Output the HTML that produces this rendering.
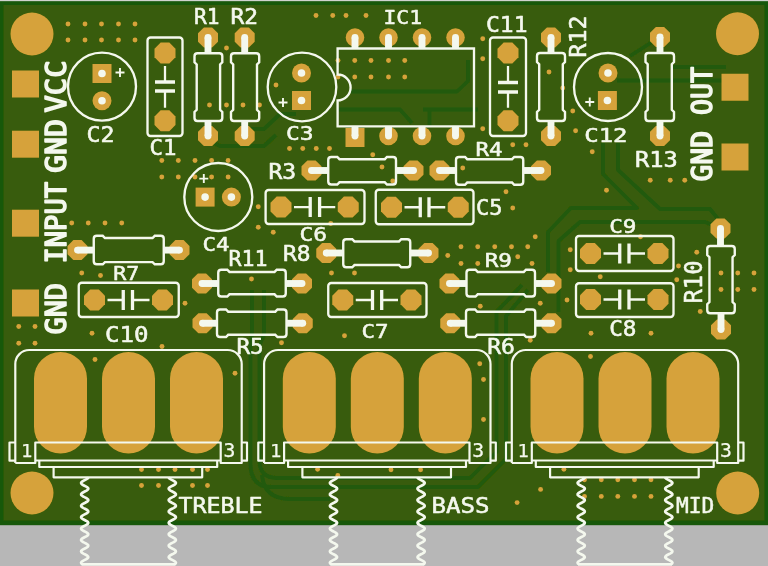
<!DOCTYPE html><html><head><meta charset="utf-8"><title>PCB</title><style>html,body{margin:0;padding:0;background:#b7b7b7}svg{display:block}</style></head><body><svg width="768" height="566" viewBox="0 0 768 566">
<rect width="768" height="566" fill="#b7b7b7"/>
<rect x="0" y="0" width="768" height="1.2" fill="#cfd3cf"/>
<rect x="0" y="1.2" width="768" height="524" fill="#17580a"/>
<defs><filter id="soft" x="-2%" y="-2%" width="104%" height="104%"><feGaussianBlur stdDeviation="0.7"/></filter></defs>
<g filter="url(#soft)">
<rect x="3.5" y="5" width="761" height="515.5" fill="#385c07"/>
<g fill="none" stroke="#215a0b" stroke-width="3.8" stroke-linejoin="round"><path d="M603 143 V174 L637 208 H571 L548 232 V272"/><path d="M618 143 V170 L660 209 H710 L720.5 222"/><path d="M720 228 L705 222 H580 L558.5 241 V312"/><path d="M252 290 V335 L250.5 345 V464 Q250.5 487 272 487 H478 L506 459 V316 L528 290"/><path d="M264 290 V335 L259.5 345 V460 Q259.5 478 277 478 H470 L496.5 452 V312 L522 285"/><path d="M262 475 Q264 499 290 499 H330"/><path d="M251 129 H264 L280 114 H296"/><path d="M208 140 L220 146 H264 L276 135"/><path d="M351 91.5 H457 L468 81 V60"/><path d="M338 109.5 H400 L412 123"/><path d="M423 109.5 H478 M429.5 109.5 V126"/><path d="M617 80.5 H723 M673 67 H726 M660 37 L630 56"/></g>
<circle cx="68.00" cy="24.00" r="2.45" fill="#d6a23a"/><circle cx="68.00" cy="40.00" r="2.45" fill="#d6a23a"/><circle cx="85.00" cy="24.00" r="2.45" fill="#d6a23a"/><circle cx="85.00" cy="40.00" r="2.45" fill="#d6a23a"/><circle cx="101.50" cy="24.00" r="2.45" fill="#d6a23a"/><circle cx="101.50" cy="40.00" r="2.45" fill="#d6a23a"/><circle cx="118.50" cy="24.00" r="2.45" fill="#d6a23a"/><circle cx="118.50" cy="40.00" r="2.45" fill="#d6a23a"/><circle cx="135.00" cy="24.00" r="2.45" fill="#d6a23a"/><circle cx="135.00" cy="40.00" r="2.45" fill="#d6a23a"/><circle cx="316.00" cy="15.50" r="2.45" fill="#d6a23a"/><circle cx="332.75" cy="15.50" r="2.45" fill="#d6a23a"/><circle cx="346.00" cy="15.50" r="2.45" fill="#d6a23a"/><circle cx="366.00" cy="15.50" r="2.45" fill="#d6a23a"/><circle cx="338.00" cy="60.50" r="2.45" fill="#d6a23a"/><circle cx="338.00" cy="77.00" r="2.45" fill="#d6a23a"/><circle cx="354.75" cy="60.50" r="2.45" fill="#d6a23a"/><circle cx="354.75" cy="77.00" r="2.45" fill="#d6a23a"/><circle cx="371.00" cy="60.50" r="2.45" fill="#d6a23a"/><circle cx="371.00" cy="77.00" r="2.45" fill="#d6a23a"/><circle cx="388.50" cy="60.50" r="2.45" fill="#d6a23a"/><circle cx="388.50" cy="77.00" r="2.45" fill="#d6a23a"/><circle cx="404.75" cy="60.50" r="2.45" fill="#d6a23a"/><circle cx="404.75" cy="77.00" r="2.45" fill="#d6a23a"/><circle cx="226.50" cy="48.00" r="2.45" fill="#d6a23a"/><circle cx="209.50" cy="105.00" r="2.45" fill="#d6a23a"/><circle cx="226.50" cy="105.00" r="2.45" fill="#d6a23a"/><circle cx="243.00" cy="105.00" r="2.45" fill="#d6a23a"/><circle cx="259.50" cy="105.00" r="2.45" fill="#d6a23a"/><circle cx="276.00" cy="85.00" r="2.45" fill="#d6a23a"/><circle cx="482.75" cy="38.75" r="2.45" fill="#d6a23a"/><circle cx="482.75" cy="58.75" r="2.45" fill="#d6a23a"/><circle cx="482.75" cy="128.75" r="2.45" fill="#d6a23a"/><circle cx="549.00" cy="72.00" r="2.45" fill="#d6a23a"/><circle cx="562.75" cy="88.00" r="2.45" fill="#d6a23a"/><circle cx="572.75" cy="111.00" r="2.45" fill="#d6a23a"/><circle cx="161.80" cy="160.50" r="2.45" fill="#d6a23a"/><circle cx="161.80" cy="177.00" r="2.45" fill="#d6a23a"/><circle cx="178.30" cy="160.50" r="2.45" fill="#d6a23a"/><circle cx="178.30" cy="177.00" r="2.45" fill="#d6a23a"/><circle cx="195.00" cy="160.50" r="2.45" fill="#d6a23a"/><circle cx="195.00" cy="177.00" r="2.45" fill="#d6a23a"/><circle cx="211.60" cy="160.50" r="2.45" fill="#d6a23a"/><circle cx="211.60" cy="177.00" r="2.45" fill="#d6a23a"/><circle cx="228.10" cy="160.50" r="2.45" fill="#d6a23a"/><circle cx="228.10" cy="177.00" r="2.45" fill="#d6a23a"/><circle cx="258.25" cy="206.75" r="2.45" fill="#d6a23a"/><circle cx="258.25" cy="227.25" r="2.45" fill="#d6a23a"/><circle cx="273.25" cy="232.25" r="2.45" fill="#d6a23a"/><circle cx="289.50" cy="148.50" r="2.45" fill="#d6a23a"/><circle cx="302.75" cy="148.50" r="2.45" fill="#d6a23a"/><circle cx="316.25" cy="148.50" r="2.45" fill="#d6a23a"/><circle cx="329.50" cy="148.50" r="2.45" fill="#d6a23a"/><circle cx="372.75" cy="154.75" r="2.45" fill="#d6a23a"/><circle cx="382.00" cy="167.00" r="2.45" fill="#d6a23a"/><circle cx="330.75" cy="223.50" r="2.45" fill="#d6a23a"/><circle cx="251.50" cy="279.00" r="2.45" fill="#d6a23a"/><circle cx="331.50" cy="273.00" r="2.45" fill="#d6a23a"/><circle cx="354.50" cy="273.00" r="2.45" fill="#d6a23a"/><circle cx="512.75" cy="144.75" r="2.45" fill="#d6a23a"/><circle cx="526.00" cy="144.75" r="2.45" fill="#d6a23a"/><circle cx="506.00" cy="191.75" r="2.45" fill="#d6a23a"/><circle cx="512.75" cy="208.00" r="2.45" fill="#d6a23a"/><circle cx="535.25" cy="236.75" r="2.45" fill="#d6a23a"/><circle cx="461.00" cy="246.75" r="2.45" fill="#d6a23a"/><circle cx="477.75" cy="246.75" r="2.45" fill="#d6a23a"/><circle cx="494.75" cy="246.75" r="2.45" fill="#d6a23a"/><circle cx="511.50" cy="246.75" r="2.45" fill="#d6a23a"/><circle cx="527.75" cy="246.75" r="2.45" fill="#d6a23a"/><circle cx="447.75" cy="255.50" r="2.45" fill="#d6a23a"/><circle cx="461.00" cy="263.50" r="2.45" fill="#d6a23a"/><circle cx="477.75" cy="263.50" r="2.45" fill="#d6a23a"/><circle cx="517.75" cy="256.75" r="2.45" fill="#d6a23a"/><circle cx="532.00" cy="263.50" r="2.45" fill="#d6a23a"/><circle cx="570.25" cy="249.75" r="2.45" fill="#d6a23a"/><circle cx="570.25" cy="269.75" r="2.45" fill="#d6a23a"/><circle cx="592.25" cy="151.75" r="2.45" fill="#d6a23a"/><circle cx="650.25" cy="180.25" r="2.45" fill="#d6a23a"/><circle cx="670.25" cy="180.25" r="2.45" fill="#d6a23a"/><circle cx="684.75" cy="180.25" r="2.45" fill="#d6a23a"/><circle cx="606.50" cy="190.25" r="2.45" fill="#d6a23a"/><circle cx="640.50" cy="236.75" r="2.45" fill="#d6a23a"/><circle cx="696.75" cy="252.25" r="2.45" fill="#d6a23a"/><circle cx="678.50" cy="266.00" r="2.45" fill="#d6a23a"/><circle cx="600.25" cy="276.75" r="2.45" fill="#d6a23a"/><circle cx="676.75" cy="279.75" r="2.45" fill="#d6a23a"/><circle cx="721.00" cy="273.00" r="2.45" fill="#d6a23a"/><circle cx="721.00" cy="289.50" r="2.45" fill="#d6a23a"/><circle cx="737.75" cy="273.00" r="2.45" fill="#d6a23a"/><circle cx="737.75" cy="289.50" r="2.45" fill="#d6a23a"/><circle cx="754.00" cy="273.00" r="2.45" fill="#d6a23a"/><circle cx="754.00" cy="289.50" r="2.45" fill="#d6a23a"/><circle cx="18.75" cy="326.50" r="2.45" fill="#d6a23a"/><circle cx="35.00" cy="326.50" r="2.45" fill="#d6a23a"/><circle cx="18.75" cy="343.25" r="2.45" fill="#d6a23a"/><circle cx="35.00" cy="343.25" r="2.45" fill="#d6a23a"/><circle cx="92.00" cy="333.25" r="2.45" fill="#d6a23a"/><circle cx="95.00" cy="359.50" r="2.45" fill="#d6a23a"/><circle cx="162.00" cy="346.50" r="2.45" fill="#d6a23a"/><circle cx="185.00" cy="303.25" r="2.45" fill="#d6a23a"/><circle cx="281.50" cy="342.75" r="2.45" fill="#d6a23a"/><circle cx="344.50" cy="335.75" r="2.45" fill="#d6a23a"/><circle cx="235.00" cy="373.25" r="2.45" fill="#d6a23a"/><circle cx="480.25" cy="306.25" r="2.45" fill="#d6a23a"/><circle cx="540.25" cy="303.25" r="2.45" fill="#d6a23a"/><circle cx="567.00" cy="300.00" r="2.45" fill="#d6a23a"/><circle cx="530.25" cy="340.25" r="2.45" fill="#d6a23a"/><circle cx="479.75" cy="363.75" r="2.45" fill="#d6a23a"/><circle cx="483.50" cy="379.50" r="2.45" fill="#d6a23a"/><circle cx="483.50" cy="419.50" r="2.45" fill="#d6a23a"/><circle cx="591.00" cy="333.25" r="2.45" fill="#d6a23a"/><circle cx="651.00" cy="333.25" r="2.45" fill="#d6a23a"/><circle cx="590.50" cy="356.50" r="2.45" fill="#d6a23a"/><circle cx="700.25" cy="311.50" r="2.45" fill="#d6a23a"/><circle cx="141.50" cy="469.50" r="2.45" fill="#d6a23a"/><circle cx="158.50" cy="469.50" r="2.45" fill="#d6a23a"/><circle cx="175.00" cy="469.50" r="2.45" fill="#d6a23a"/><circle cx="192.50" cy="469.50" r="2.45" fill="#d6a23a"/><circle cx="207.50" cy="469.50" r="2.45" fill="#d6a23a"/><circle cx="141.50" cy="485.50" r="2.45" fill="#d6a23a"/><circle cx="158.50" cy="485.50" r="2.45" fill="#d6a23a"/><circle cx="192.50" cy="485.50" r="2.45" fill="#d6a23a"/><circle cx="207.50" cy="485.50" r="2.45" fill="#d6a23a"/><circle cx="317.60" cy="469.20" r="2.45" fill="#d6a23a"/><circle cx="337.80" cy="475.50" r="2.45" fill="#d6a23a"/><circle cx="391.00" cy="469.70" r="2.45" fill="#d6a23a"/><circle cx="420.60" cy="469.70" r="2.45" fill="#d6a23a"/><circle cx="540.60" cy="489.40" r="2.45" fill="#d6a23a"/><circle cx="517.10" cy="502.60" r="2.45" fill="#d6a23a"/><circle cx="563.90" cy="469.20" r="2.45" fill="#d6a23a"/><circle cx="584.50" cy="479.70" r="2.45" fill="#d6a23a"/><circle cx="584.50" cy="496.40" r="2.45" fill="#d6a23a"/><circle cx="601.30" cy="479.70" r="2.45" fill="#d6a23a"/><circle cx="601.30" cy="496.40" r="2.45" fill="#d6a23a"/><circle cx="617.80" cy="479.70" r="2.45" fill="#d6a23a"/><circle cx="617.80" cy="496.40" r="2.45" fill="#d6a23a"/><circle cx="634.50" cy="479.70" r="2.45" fill="#d6a23a"/><circle cx="634.50" cy="496.40" r="2.45" fill="#d6a23a"/><circle cx="651.00" cy="479.70" r="2.45" fill="#d6a23a"/><circle cx="651.00" cy="496.40" r="2.45" fill="#d6a23a"/><circle cx="71.75" cy="223.00" r="2.45" fill="#d6a23a"/><circle cx="88.25" cy="223.00" r="2.45" fill="#d6a23a"/><circle cx="105.00" cy="223.00" r="2.45" fill="#d6a23a"/><circle cx="121.75" cy="223.00" r="2.45" fill="#d6a23a"/><circle cx="81.75" cy="273.00" r="2.45" fill="#d6a23a"/><circle cx="100.50" cy="275.50" r="2.45" fill="#d6a23a"/><circle cx="462.75" cy="168.00" r="2.45" fill="#d6a23a"/><circle cx="392.75" cy="181.00" r="2.45" fill="#d6a23a"/><circle cx="575.60" cy="130.80" r="2.45" fill="#d6a23a"/>
<polygon points="218.00,41.64 212.14,47.50 203.86,47.50 198.00,41.64 198.00,33.36 203.86,27.50 212.14,27.50 218.00,33.36" fill="#d6a23a"/><polygon points="218.00,140.14 212.14,146.00 203.86,146.00 198.00,140.14 198.00,131.86 203.86,126.00 212.14,126.00 218.00,131.86" fill="#d6a23a"/><polygon points="254.70,41.64 248.84,47.50 240.56,47.50 234.70,41.64 234.70,33.36 240.56,27.50 248.84,27.50 254.70,33.36" fill="#d6a23a"/><polygon points="254.70,140.14 248.84,146.00 240.56,146.00 234.70,140.14 234.70,131.86 240.56,126.00 248.84,126.00 254.70,131.86" fill="#d6a23a"/><polygon points="561.00,41.64 555.14,47.50 546.86,47.50 541.00,41.64 541.00,33.36 546.86,27.50 555.14,27.50 561.00,33.36" fill="#d6a23a"/><polygon points="561.00,140.14 555.14,146.00 546.86,146.00 541.00,140.14 541.00,131.86 546.86,126.00 555.14,126.00 561.00,131.86" fill="#d6a23a"/><polygon points="670.00,41.14 664.14,47.00 655.86,47.00 650.00,41.14 650.00,32.86 655.86,27.00 664.14,27.00 670.00,32.86" fill="#d6a23a"/><polygon points="670.00,140.14 664.14,146.00 655.86,146.00 650.00,140.14 650.00,131.86 655.86,126.00 664.14,126.00 670.00,131.86" fill="#d6a23a"/><polygon points="730.50,232.64 724.64,238.50 716.36,238.50 710.50,232.64 710.50,224.36 716.36,218.50 724.64,218.50 730.50,224.36" fill="#d6a23a"/><polygon points="731.00,333.64 725.14,339.50 716.86,339.50 711.00,333.64 711.00,325.36 716.86,319.50 725.14,319.50 731.00,325.36" fill="#d6a23a"/><polygon points="321.50,174.64 315.64,180.50 307.36,180.50 301.50,174.64 301.50,166.36 307.36,160.50 315.64,160.50 321.50,166.36" fill="#d6a23a"/><polygon points="423.50,174.64 417.64,180.50 409.36,180.50 403.50,174.64 403.50,166.36 409.36,160.50 417.64,160.50 423.50,166.36" fill="#d6a23a"/><polygon points="449.50,174.64 443.64,180.50 435.36,180.50 429.50,174.64 429.50,166.36 435.36,160.50 443.64,160.50 449.50,166.36" fill="#d6a23a"/><polygon points="551.00,174.64 545.14,180.50 536.86,180.50 531.00,174.64 531.00,166.36 536.86,160.50 545.14,160.50 551.00,166.36" fill="#d6a23a"/><polygon points="87.50,254.24 81.64,260.10 73.36,260.10 67.50,254.24 67.50,245.96 73.36,240.10 81.64,240.10 87.50,245.96" fill="#d6a23a"/><polygon points="189.50,254.24 183.64,260.10 175.36,260.10 169.50,254.24 169.50,245.96 175.36,240.10 183.64,240.10 189.50,245.96" fill="#d6a23a"/><polygon points="336.25,257.14 330.39,263.00 322.11,263.00 316.25,257.14 316.25,248.86 322.11,243.00 330.39,243.00 336.25,248.86" fill="#d6a23a"/><polygon points="438.50,257.14 432.64,263.00 424.36,263.00 418.50,257.14 418.50,248.86 424.36,243.00 432.64,243.00 438.50,248.86" fill="#d6a23a"/><polygon points="212.00,287.64 206.14,293.50 197.86,293.50 192.00,287.64 192.00,279.36 197.86,273.50 206.14,273.50 212.00,279.36" fill="#d6a23a"/><polygon points="312.00,287.64 306.14,293.50 297.86,293.50 292.00,287.64 292.00,279.36 297.86,273.50 306.14,273.50 312.00,279.36" fill="#d6a23a"/><polygon points="459.50,287.64 453.64,293.50 445.36,293.50 439.50,287.64 439.50,279.36 445.36,273.50 453.64,273.50 459.50,279.36" fill="#d6a23a"/><polygon points="561.50,287.64 555.64,293.50 547.36,293.50 541.50,287.64 541.50,279.36 547.36,273.50 555.64,273.50 561.50,279.36" fill="#d6a23a"/><polygon points="212.50,327.39 206.64,333.25 198.36,333.25 192.50,327.39 192.50,319.11 198.36,313.25 206.64,313.25 212.50,319.11" fill="#d6a23a"/><polygon points="312.75,327.39 306.89,333.25 298.61,333.25 292.75,327.39 292.75,319.11 298.61,313.25 306.89,313.25 312.75,319.11" fill="#d6a23a"/><polygon points="460.25,327.39 454.39,333.25 446.11,333.25 440.25,327.39 440.25,319.11 446.11,313.25 454.39,313.25 460.25,319.11" fill="#d6a23a"/><polygon points="561.50,327.39 555.64,333.25 547.36,333.25 541.50,327.39 541.50,319.11 547.36,313.25 555.64,313.25 561.50,319.11" fill="#d6a23a"/><polygon points="175.50,57.35 169.35,63.50 160.65,63.50 154.50,57.35 154.50,48.65 160.65,42.50 169.35,42.50 175.50,48.65" fill="#d6a23a"/><polygon points="175.50,125.10 169.35,131.25 160.65,131.25 154.50,125.10 154.50,116.40 160.65,110.25 169.35,110.25 175.50,116.40" fill="#d6a23a"/><polygon points="518.50,57.35 512.35,63.50 503.65,63.50 497.50,57.35 497.50,48.65 503.65,42.50 512.35,42.50 518.50,48.65" fill="#d6a23a"/><polygon points="518.50,125.10 512.35,131.25 503.65,131.25 497.50,125.10 497.50,116.40 503.65,110.25 512.35,110.25 518.50,116.40" fill="#d6a23a"/><polygon points="291.50,211.45 285.35,217.60 276.65,217.60 270.50,211.45 270.50,202.75 276.65,196.60 285.35,196.60 291.50,202.75" fill="#d6a23a"/><polygon points="358.75,211.45 352.60,217.60 343.90,217.60 337.75,211.45 337.75,202.75 343.90,196.60 352.60,196.60 358.75,202.75" fill="#d6a23a"/><polygon points="402.00,211.60 395.85,217.75 387.15,217.75 381.00,211.60 381.00,202.90 387.15,196.75 395.85,196.75 402.00,202.90" fill="#d6a23a"/><polygon points="468.75,211.60 462.60,217.75 453.90,217.75 447.75,211.60 447.75,202.90 453.90,196.75 462.60,196.75 468.75,202.90" fill="#d6a23a"/><polygon points="601.00,257.85 594.85,264.00 586.15,264.00 580.00,257.85 580.00,249.15 586.15,243.00 594.85,243.00 601.00,249.15" fill="#d6a23a"/><polygon points="668.50,257.85 662.35,264.00 653.65,264.00 647.50,257.85 647.50,249.15 653.65,243.00 662.35,243.00 668.50,249.15" fill="#d6a23a"/><polygon points="601.00,303.85 594.85,310.00 586.15,310.00 580.00,303.85 580.00,295.15 586.15,289.00 594.85,289.00 601.00,295.15" fill="#d6a23a"/><polygon points="668.50,303.85 662.35,310.00 653.65,310.00 647.50,303.85 647.50,295.15 653.65,289.00 662.35,289.00 668.50,295.15" fill="#d6a23a"/><polygon points="105.00,304.35 98.85,310.50 90.15,310.50 84.00,304.35 84.00,295.65 90.15,289.50 98.85,289.50 105.00,295.65" fill="#d6a23a"/><polygon points="173.00,304.35 166.85,310.50 158.15,310.50 152.00,304.35 152.00,295.65 158.15,289.50 166.85,289.50 173.00,295.65" fill="#d6a23a"/><polygon points="353.25,304.35 347.10,310.50 338.40,310.50 332.25,304.35 332.25,295.65 338.40,289.50 347.10,289.50 353.25,295.65" fill="#d6a23a"/><polygon points="421.50,304.35 415.35,310.50 406.65,310.50 400.50,304.35 400.50,295.65 406.65,289.50 415.35,289.50 421.50,295.65" fill="#d6a23a"/><rect x="92.50" y="64.00" width="19" height="19" fill="#d6a23a"/><circle cx="102.00" cy="100.70" r="9.5" fill="#d6a23a"/><circle cx="102.00" cy="73.50" r="3.8" fill="#f4f8ee"/><circle cx="102.00" cy="100.70" r="3.8" fill="#f4f8ee"/><rect x="292.00" y="91.00" width="19" height="19" fill="#d6a23a"/><circle cx="301.50" cy="73.00" r="9.5" fill="#d6a23a"/><circle cx="301.50" cy="100.50" r="3.8" fill="#f4f8ee"/><circle cx="301.50" cy="73.00" r="3.8" fill="#f4f8ee"/><rect x="597.90" y="91.00" width="19" height="19" fill="#d6a23a"/><circle cx="608.00" cy="73.00" r="9.5" fill="#d6a23a"/><circle cx="607.40" cy="100.50" r="3.8" fill="#f4f8ee"/><circle cx="608.00" cy="73.00" r="3.8" fill="#f4f8ee"/><rect x="195.60" y="187.60" width="19" height="19" fill="#d6a23a"/><circle cx="231.40" cy="197.10" r="9.5" fill="#d6a23a"/><circle cx="205.10" cy="197.10" r="3.8" fill="#f4f8ee"/><circle cx="231.40" cy="197.10" r="3.8" fill="#f4f8ee"/><circle cx="355.00" cy="37.50" r="9.3" fill="#d6a23a"/><rect x="345.5" y="128" width="19" height="19" fill="#d6a23a"/><circle cx="388.50" cy="37.50" r="9.3" fill="#d6a23a"/><circle cx="388.50" cy="136.00" r="9.3" fill="#d6a23a"/><circle cx="422.00" cy="37.50" r="9.3" fill="#d6a23a"/><circle cx="422.00" cy="136.00" r="9.3" fill="#d6a23a"/><circle cx="455.50" cy="37.50" r="9.3" fill="#d6a23a"/><circle cx="455.50" cy="136.00" r="9.3" fill="#d6a23a"/><rect x="12" y="70.50" width="27" height="27" fill="#d6a23a"/><rect x="12" y="130.70" width="27" height="27" fill="#d6a23a"/><rect x="12" y="209.70" width="27" height="27" fill="#d6a23a"/><rect x="12" y="289.50" width="27" height="27" fill="#d6a23a"/><rect x="721.5" y="73.75" width="27" height="27" fill="#d6a23a"/><rect x="721.5" y="143.50" width="27" height="27" fill="#d6a23a"/><circle cx="32.00" cy="34.00" r="21.5" fill="#d6a23a"/><circle cx="737.50" cy="33.75" r="21.5" fill="#d6a23a"/><circle cx="32.00" cy="493.00" r="21.5" fill="#d6a23a"/><circle cx="737.70" cy="493.00" r="21.5" fill="#d6a23a"/><rect x="34.00" y="352" width="53" height="101.5" rx="26.5" fill="#d6a23a"/><rect x="102.00" y="352" width="53" height="101.5" rx="26.5" fill="#d6a23a"/><rect x="170.00" y="352" width="53" height="101.5" rx="26.5" fill="#d6a23a"/><rect x="282.80" y="352" width="53" height="101.5" rx="26.5" fill="#d6a23a"/><rect x="350.80" y="352" width="53" height="101.5" rx="26.5" fill="#d6a23a"/><rect x="418.80" y="352" width="53" height="101.5" rx="26.5" fill="#d6a23a"/><rect x="530.50" y="352" width="53" height="101.5" rx="26.5" fill="#d6a23a"/><rect x="598.50" y="352" width="53" height="101.5" rx="26.5" fill="#d6a23a"/><rect x="666.50" y="352" width="53" height="101.5" rx="26.5" fill="#d6a23a"/>
<line x1="208.00" y1="37.50" x2="208.00" y2="53.30" stroke="#f4f8ee" stroke-width="6.90"/><circle cx="208.00" cy="37.50" r="3.45" fill="#f4f8ee"/><line x1="208.00" y1="136.00" x2="208.00" y2="121.00" stroke="#f4f8ee" stroke-width="6.90"/><circle cx="208.00" cy="136.00" r="3.45" fill="#f4f8ee"/><path d="M194.50 56.30 Q194.50 53.30 197.50 53.30 L219.30 53.30 Q222.30 53.30 222.30 56.30 L222.30 62.30 L220.10 64.50 L220.10 109.80 L222.30 112.00 L222.30 118.00 Q222.30 121.00 219.30 121.00 L197.50 121.00 Q194.50 121.00 194.50 118.00 L194.50 112.00 L196.70 109.80 L196.70 64.50 L194.50 62.30 Z" fill="none" stroke="#f4f8ee" stroke-width="2.40"/><line x1="244.70" y1="37.50" x2="244.70" y2="53.30" stroke="#f4f8ee" stroke-width="6.90"/><circle cx="244.70" cy="37.50" r="3.45" fill="#f4f8ee"/><line x1="244.70" y1="136.00" x2="244.70" y2="121.00" stroke="#f4f8ee" stroke-width="6.90"/><circle cx="244.70" cy="136.00" r="3.45" fill="#f4f8ee"/><path d="M231.00 56.30 Q231.00 53.30 234.00 53.30 L256.20 53.30 Q259.20 53.30 259.20 56.30 L259.20 62.30 L257.00 64.50 L257.00 109.80 L259.20 112.00 L259.20 118.00 Q259.20 121.00 256.20 121.00 L234.00 121.00 Q231.00 121.00 231.00 118.00 L231.00 112.00 L233.20 109.80 L233.20 64.50 L231.00 62.30 Z" fill="none" stroke="#f4f8ee" stroke-width="2.40"/><line x1="551.00" y1="37.50" x2="551.00" y2="53.00" stroke="#f4f8ee" stroke-width="6.90"/><circle cx="551.00" cy="37.50" r="3.45" fill="#f4f8ee"/><line x1="551.00" y1="136.00" x2="551.00" y2="121.00" stroke="#f4f8ee" stroke-width="6.90"/><circle cx="551.00" cy="136.00" r="3.45" fill="#f4f8ee"/><path d="M537.00 56.00 Q537.00 53.00 540.00 53.00 L562.00 53.00 Q565.00 53.00 565.00 56.00 L565.00 62.00 L562.80 64.20 L562.80 109.80 L565.00 112.00 L565.00 118.00 Q565.00 121.00 562.00 121.00 L540.00 121.00 Q537.00 121.00 537.00 118.00 L537.00 112.00 L539.20 109.80 L539.20 64.20 L537.00 62.00 Z" fill="none" stroke="#f4f8ee" stroke-width="2.40"/><line x1="660.00" y1="37.00" x2="660.00" y2="53.00" stroke="#f4f8ee" stroke-width="6.90"/><circle cx="660.00" cy="37.00" r="3.45" fill="#f4f8ee"/><line x1="660.00" y1="136.00" x2="660.00" y2="121.00" stroke="#f4f8ee" stroke-width="6.90"/><circle cx="660.00" cy="136.00" r="3.45" fill="#f4f8ee"/><path d="M645.50 56.00 Q645.50 53.00 648.50 53.00 L671.00 53.00 Q674.00 53.00 674.00 56.00 L674.00 62.00 L671.80 64.20 L671.80 109.80 L674.00 112.00 L674.00 118.00 Q674.00 121.00 671.00 121.00 L648.50 121.00 Q645.50 121.00 645.50 118.00 L645.50 112.00 L647.70 109.80 L647.70 64.20 L645.50 62.00 Z" fill="none" stroke="#f4f8ee" stroke-width="2.40"/><line x1="720.50" y1="228.50" x2="720.50" y2="246.00" stroke="#f4f8ee" stroke-width="6.90"/><circle cx="720.50" cy="228.50" r="3.45" fill="#f4f8ee"/><line x1="721.00" y1="329.50" x2="721.00" y2="313.25" stroke="#f4f8ee" stroke-width="6.90"/><circle cx="721.00" cy="329.50" r="3.45" fill="#f4f8ee"/><path d="M707.25 249.00 Q707.25 246.00 710.25 246.00 L731.75 246.00 Q734.75 246.00 734.75 249.00 L734.75 255.00 L732.55 257.20 L732.55 302.05 L734.75 304.25 L734.75 310.25 Q734.75 313.25 731.75 313.25 L710.25 313.25 Q707.25 313.25 707.25 310.25 L707.25 304.25 L709.45 302.05 L709.45 257.20 L707.25 255.00 Z" fill="none" stroke="#f4f8ee" stroke-width="2.40"/><line x1="311.50" y1="170.50" x2="328.25" y2="170.50" stroke="#f4f8ee" stroke-width="6.90"/><circle cx="311.50" cy="170.50" r="3.45" fill="#f4f8ee"/><line x1="413.50" y1="170.50" x2="396.00" y2="170.50" stroke="#f4f8ee" stroke-width="6.90"/><circle cx="413.50" cy="170.50" r="3.45" fill="#f4f8ee"/><path d="M331.25 157.00 L337.25 157.00 L339.45 159.20 L384.80 159.20 L387.00 157.00 L393.00 157.00 Q396.00 157.00 396.00 160.00 L396.00 181.50 Q396.00 184.50 393.00 184.50 L387.00 184.50 L384.80 182.30 L339.45 182.30 L337.25 184.50 L331.25 184.50 Q328.25 184.50 328.25 181.50 L328.25 160.00 Q328.25 157.00 331.25 157.00 Z" fill="none" stroke="#f4f8ee" stroke-width="2.40"/><line x1="439.50" y1="170.50" x2="456.00" y2="170.50" stroke="#f4f8ee" stroke-width="6.90"/><circle cx="439.50" cy="170.50" r="3.45" fill="#f4f8ee"/><line x1="541.00" y1="170.50" x2="523.25" y2="170.50" stroke="#f4f8ee" stroke-width="6.90"/><circle cx="541.00" cy="170.50" r="3.45" fill="#f4f8ee"/><path d="M459.00 157.00 L465.00 157.00 L467.20 159.20 L512.05 159.20 L514.25 157.00 L520.25 157.00 Q523.25 157.00 523.25 160.00 L523.25 181.75 Q523.25 184.75 520.25 184.75 L514.25 184.75 L512.05 182.55 L467.20 182.55 L465.00 184.75 L459.00 184.75 Q456.00 184.75 456.00 181.75 L456.00 160.00 Q456.00 157.00 459.00 157.00 Z" fill="none" stroke="#f4f8ee" stroke-width="2.40"/><line x1="77.50" y1="250.10" x2="93.75" y2="250.10" stroke="#f4f8ee" stroke-width="6.90"/><circle cx="77.50" cy="250.10" r="3.45" fill="#f4f8ee"/><line x1="179.50" y1="250.10" x2="163.75" y2="250.10" stroke="#f4f8ee" stroke-width="6.90"/><circle cx="179.50" cy="250.10" r="3.45" fill="#f4f8ee"/><path d="M96.75 235.80 L102.75 235.80 L104.95 238.00 L152.55 238.00 L154.75 235.80 L160.75 235.80 Q163.75 235.80 163.75 238.80 L163.75 261.30 Q163.75 264.30 160.75 264.30 L154.75 264.30 L152.55 262.10 L104.95 262.10 L102.75 264.30 L96.75 264.30 Q93.75 264.30 93.75 261.30 L93.75 238.80 Q93.75 235.80 96.75 235.80 Z" fill="none" stroke="#f4f8ee" stroke-width="2.40"/><line x1="326.25" y1="253.00" x2="343.25" y2="253.00" stroke="#f4f8ee" stroke-width="6.90"/><circle cx="326.25" cy="253.00" r="3.45" fill="#f4f8ee"/><line x1="428.50" y1="253.00" x2="410.25" y2="253.00" stroke="#f4f8ee" stroke-width="6.90"/><circle cx="428.50" cy="253.00" r="3.45" fill="#f4f8ee"/><path d="M346.25 239.25 L352.25 239.25 L354.45 241.45 L399.05 241.45 L401.25 239.25 L407.25 239.25 Q410.25 239.25 410.25 242.25 L410.25 264.25 Q410.25 267.25 407.25 267.25 L401.25 267.25 L399.05 265.05 L354.45 265.05 L352.25 267.25 L346.25 267.25 Q343.25 267.25 343.25 264.25 L343.25 242.25 Q343.25 239.25 346.25 239.25 Z" fill="none" stroke="#f4f8ee" stroke-width="2.40"/><line x1="202.00" y1="283.50" x2="218.25" y2="283.50" stroke="#f4f8ee" stroke-width="6.90"/><circle cx="202.00" cy="283.50" r="3.45" fill="#f4f8ee"/><line x1="302.00" y1="283.50" x2="285.75" y2="283.50" stroke="#f4f8ee" stroke-width="6.90"/><circle cx="302.00" cy="283.50" r="3.45" fill="#f4f8ee"/><path d="M221.25 269.75 L227.25 269.75 L229.45 271.95 L274.55 271.95 L276.75 269.75 L282.75 269.75 Q285.75 269.75 285.75 272.75 L285.75 293.50 Q285.75 296.50 282.75 296.50 L276.75 296.50 L274.55 294.30 L229.45 294.30 L227.25 296.50 L221.25 296.50 Q218.25 296.50 218.25 293.50 L218.25 272.75 Q218.25 269.75 221.25 269.75 Z" fill="none" stroke="#f4f8ee" stroke-width="2.40"/><line x1="449.50" y1="283.50" x2="466.50" y2="283.50" stroke="#f4f8ee" stroke-width="6.90"/><circle cx="449.50" cy="283.50" r="3.45" fill="#f4f8ee"/><line x1="551.50" y1="283.50" x2="535.00" y2="283.50" stroke="#f4f8ee" stroke-width="6.90"/><circle cx="551.50" cy="283.50" r="3.45" fill="#f4f8ee"/><path d="M469.50 269.75 L475.50 269.75 L477.70 271.95 L523.80 271.95 L526.00 269.75 L532.00 269.75 Q535.00 269.75 535.00 272.75 L535.00 293.50 Q535.00 296.50 532.00 296.50 L526.00 296.50 L523.80 294.30 L477.70 294.30 L475.50 296.50 L469.50 296.50 Q466.50 296.50 466.50 293.50 L466.50 272.75 Q466.50 269.75 469.50 269.75 Z" fill="none" stroke="#f4f8ee" stroke-width="2.40"/><line x1="202.50" y1="323.25" x2="217.00" y2="323.25" stroke="#f4f8ee" stroke-width="6.90"/><circle cx="202.50" cy="323.25" r="3.45" fill="#f4f8ee"/><line x1="302.75" y1="323.25" x2="286.50" y2="323.25" stroke="#f4f8ee" stroke-width="6.90"/><circle cx="302.75" cy="323.25" r="3.45" fill="#f4f8ee"/><path d="M220.00 309.50 L226.00 309.50 L228.20 311.70 L275.30 311.70 L277.50 309.50 L283.50 309.50 Q286.50 309.50 286.50 312.50 L286.50 334.00 Q286.50 337.00 283.50 337.00 L277.50 337.00 L275.30 334.80 L228.20 334.80 L226.00 337.00 L220.00 337.00 Q217.00 337.00 217.00 334.00 L217.00 312.50 Q217.00 309.50 220.00 309.50 Z" fill="none" stroke="#f4f8ee" stroke-width="2.40"/><line x1="450.25" y1="323.25" x2="466.00" y2="323.25" stroke="#f4f8ee" stroke-width="6.90"/><circle cx="450.25" cy="323.25" r="3.45" fill="#f4f8ee"/><line x1="551.50" y1="323.25" x2="535.25" y2="323.25" stroke="#f4f8ee" stroke-width="6.90"/><circle cx="551.50" cy="323.25" r="3.45" fill="#f4f8ee"/><path d="M469.00 309.50 L475.00 309.50 L477.20 311.70 L524.05 311.70 L526.25 309.50 L532.25 309.50 Q535.25 309.50 535.25 312.50 L535.25 334.00 Q535.25 337.00 532.25 337.00 L526.25 337.00 L524.05 334.80 L477.20 334.80 L475.00 337.00 L469.00 337.00 Q466.00 337.00 466.00 334.00 L466.00 312.50 Q466.00 309.50 469.00 309.50 Z" fill="none" stroke="#f4f8ee" stroke-width="2.40"/><rect x="147.50" y="37.50" width="35.00" height="98.50" rx="3" fill="none" stroke="#f4f8ee" stroke-width="2.35"/><path d="M165.00 66.00 V82.00 M165.00 91.00 V107.75" stroke="#f4f8ee" stroke-width="2.3" fill="none"/><path d="M155.00 82.00 H175.00 M155.00 91.00 H175.00" stroke="#f4f8ee" stroke-width="3.3" fill="none"/><rect x="490.00" y="37.50" width="36.00" height="98.50" rx="3" fill="none" stroke="#f4f8ee" stroke-width="2.35"/><path d="M508.00 66.00 V82.50 M508.00 92.00 V107.75" stroke="#f4f8ee" stroke-width="2.3" fill="none"/><path d="M498.00 82.50 H518.00 M498.00 92.00 H518.00" stroke="#f4f8ee" stroke-width="3.3" fill="none"/><rect x="265.60" y="190.00" width="98.90" height="34.00" rx="3" fill="none" stroke="#f4f8ee" stroke-width="2.35"/><path d="M294.00 207.10 H310.20 M319.60 207.10 H335.25" stroke="#f4f8ee" stroke-width="2.3" fill="none"/><path d="M310.20 197.10 V217.10 M319.60 197.10 V217.10" stroke="#f4f8ee" stroke-width="3.3" fill="none"/><rect x="375.75" y="189.75" width="97.75" height="34.50" rx="3" fill="none" stroke="#f4f8ee" stroke-width="2.35"/><path d="M404.50 207.25 H420.25 M429.00 207.25 H445.25" stroke="#f4f8ee" stroke-width="2.3" fill="none"/><path d="M420.25 197.25 V217.25 M429.00 197.25 V217.25" stroke="#f4f8ee" stroke-width="3.3" fill="none"/><rect x="576.00" y="236.00" width="97.50" height="35.00" rx="3" fill="none" stroke="#f4f8ee" stroke-width="2.35"/><path d="M603.50 253.50 H619.75 M629.00 253.50 H645.00" stroke="#f4f8ee" stroke-width="2.3" fill="none"/><path d="M619.75 243.50 V263.50 M629.00 243.50 V263.50" stroke="#f4f8ee" stroke-width="3.3" fill="none"/><rect x="576.00" y="283.25" width="97.50" height="33.75" rx="3" fill="none" stroke="#f4f8ee" stroke-width="2.35"/><path d="M603.50 299.50 H619.75 M629.00 299.50 H645.00" stroke="#f4f8ee" stroke-width="2.3" fill="none"/><path d="M619.75 289.50 V309.50 M629.00 289.50 V309.50" stroke="#f4f8ee" stroke-width="3.3" fill="none"/><rect x="78.75" y="282.75" width="100.00" height="34.25" rx="3" fill="none" stroke="#f4f8ee" stroke-width="2.35"/><path d="M107.50 300.00 H123.25 M132.50 300.00 H149.50" stroke="#f4f8ee" stroke-width="2.3" fill="none"/><path d="M123.25 290.00 V310.00 M132.50 290.00 V310.00" stroke="#f4f8ee" stroke-width="3.3" fill="none"/><rect x="328.25" y="283.00" width="98.25" height="34.00" rx="3" fill="none" stroke="#f4f8ee" stroke-width="2.35"/><path d="M355.75 300.00 H372.50 M381.70 300.00 H398.00" stroke="#f4f8ee" stroke-width="2.3" fill="none"/><path d="M372.50 290.00 V310.00 M381.70 290.00 V310.00" stroke="#f4f8ee" stroke-width="3.3" fill="none"/><circle cx="102.00" cy="86.60" r="34.00" fill="none" stroke="#f4f8ee" stroke-width="2.35"/><path d="M115.50 72.50 h9 M120.00 68.00 v9" stroke="#f4f8ee" stroke-width="1.9" fill="none"/><circle cx="302.00" cy="87.00" r="34.30" fill="none" stroke="#f4f8ee" stroke-width="2.35"/><path d="M278.50 102.50 h9 M283.00 98.00 v9" stroke="#f4f8ee" stroke-width="1.9" fill="none"/><circle cx="608.00" cy="87.00" r="34.00" fill="none" stroke="#f4f8ee" stroke-width="2.35"/><path d="M585.25 102.00 h9 M589.75 97.50 v9" stroke="#f4f8ee" stroke-width="1.9" fill="none"/><circle cx="218.30" cy="197.00" r="34.00" fill="none" stroke="#f4f8ee" stroke-width="2.35"/><path d="M199.30 178.60 h9 M203.80 174.10 v9" stroke="#f4f8ee" stroke-width="1.9" fill="none"/><line x1="355.00" y1="37.50" x2="355.00" y2="48.00" stroke="#f4f8ee" stroke-width="6.90"/><circle cx="355.00" cy="37.50" r="3.45" fill="#f4f8ee"/><line x1="355.00" y1="136.00" x2="355.00" y2="126.00" stroke="#f4f8ee" stroke-width="6.90"/><circle cx="355.00" cy="136.00" r="3.45" fill="#f4f8ee"/><line x1="388.50" y1="37.50" x2="388.50" y2="48.00" stroke="#f4f8ee" stroke-width="6.90"/><circle cx="388.50" cy="37.50" r="3.45" fill="#f4f8ee"/><line x1="388.50" y1="136.00" x2="388.50" y2="126.00" stroke="#f4f8ee" stroke-width="6.90"/><circle cx="388.50" cy="136.00" r="3.45" fill="#f4f8ee"/><line x1="422.00" y1="37.50" x2="422.00" y2="48.00" stroke="#f4f8ee" stroke-width="6.90"/><circle cx="422.00" cy="37.50" r="3.45" fill="#f4f8ee"/><line x1="422.00" y1="136.00" x2="422.00" y2="126.00" stroke="#f4f8ee" stroke-width="6.90"/><circle cx="422.00" cy="136.00" r="3.45" fill="#f4f8ee"/><line x1="455.50" y1="37.50" x2="455.50" y2="48.00" stroke="#f4f8ee" stroke-width="6.90"/><circle cx="455.50" cy="37.50" r="3.45" fill="#f4f8ee"/><line x1="455.50" y1="136.00" x2="455.50" y2="126.00" stroke="#f4f8ee" stroke-width="6.90"/><circle cx="455.50" cy="136.00" r="3.45" fill="#f4f8ee"/><path d="M337.6 74.5 V48.5 H474 V126.3 H337.6 V100.5 A13 13 0 0 0 337.6 74.5 Z" fill="none" stroke="#f4f8ee" stroke-width="2.35"/><path d="M15.30 463 V364 A14 14 0 0 1 29.30 350 H227.70 A14 14 0 0 1 241.70 364 V463 H220.70 V442.5 H35.30 V463 H15.30 M15.30 442.5 H9.50 V460.7 H15.30 M241.70 442.5 H247.00 V460.7 H241.70 M35.30 460.5 H220.70 M39.30 460.5 V467 H217.20 V460.5 M53.60 467 V477.3 H202.20 V467" fill="none" stroke="#f4f8ee" stroke-width="2.2" stroke-linejoin="round"/><path d="M88.30 477.30 L88.04 478.00 L87.28 478.70 L86.15 479.40 L84.80 480.10 L83.44 480.80 L82.26 481.50 L81.44 482.20 L81.11 482.90 L81.30 483.60 L81.99 484.30 L83.07 485.00 L84.40 485.70 L85.77 486.40 L86.99 487.10 L87.87 487.80 L88.28 488.50 L88.16 489.20 L87.54 489.90 L86.50 490.60 L85.19 491.30 L83.82 492.00 L82.57 492.70 L81.63 493.40 L81.15 494.10 L81.19 494.80 L81.74 495.50 L82.73 496.20 L84.01 496.90 L85.39 497.60 L86.67 498.30 L87.66 499.00 L88.21 499.70 L88.25 500.40 L87.77 501.10 L86.83 501.80 L85.58 502.50 L84.21 503.20 L82.90 503.90 L81.86 504.60 L81.24 505.30 L81.12 506.00 L81.53 506.70 L82.41 507.40 L83.63 508.10 L85.00 508.80 L86.33 509.50 L87.41 510.20 L88.10 510.90 L88.29 511.60 L87.96 512.30 L87.14 513.00 L85.96 513.70 L84.60 514.40 L83.25 515.10 L82.12 515.80 L81.36 516.50 L81.10 517.20 L81.36 517.90 L82.12 518.60 L83.25 519.30 L84.60 520.00 L85.96 520.70 L87.14 521.40 L87.96 522.10 L88.29 522.80 L88.10 523.50 L87.41 524.20 L86.33 524.90 L85.00 525.60 L83.63 526.30 L82.41 527.00 L81.53 527.70 L81.12 528.40 L81.24 529.10 L81.86 529.80 L82.90 530.50 L84.21 531.20 L85.58 531.90 L86.83 532.60 L87.77 533.30 L88.25 534.00 L88.21 534.70 L87.66 535.40 L86.67 536.10 L85.39 536.80 L84.01 537.50 L82.73 538.20 L81.74 538.90 L81.19 539.60 L81.15 540.30 L81.63 541.00 L82.57 541.70 L83.82 542.40 L85.19 543.10 L86.50 543.80 L87.54 544.50 L88.16 545.20 L88.28 545.90 L87.87 546.60 L86.99 547.30 L85.77 548.00 L84.40 548.70 L83.07 549.40 L81.99 550.10 L81.30 550.80 L81.11 551.50 L81.44 552.20 L82.26 552.90 L83.44 553.60 L84.80 554.30 L86.15 555.00 L87.28 555.70 L88.04 556.40 L88.30 557.10 L88.04 557.80 L87.28 558.50 L86.15 559.20 L84.80 559.90 L83.44 560.60 L82.26 561.30 L81.44 562.00 L81.11 562.70 L81.30 563.40 L81.99 564.10 M168.70 477.30 L168.96 478.00 L169.72 478.70 L170.85 479.40 L172.20 480.10 L173.56 480.80 L174.74 481.50 L175.56 482.20 L175.89 482.90 L175.70 483.60 L175.01 484.30 L173.93 485.00 L172.60 485.70 L171.23 486.40 L170.01 487.10 L169.13 487.80 L168.72 488.50 L168.84 489.20 L169.46 489.90 L170.50 490.60 L171.81 491.30 L173.18 492.00 L174.43 492.70 L175.37 493.40 L175.85 494.10 L175.81 494.80 L175.26 495.50 L174.27 496.20 L172.99 496.90 L171.61 497.60 L170.33 498.30 L169.34 499.00 L168.79 499.70 L168.75 500.40 L169.23 501.10 L170.17 501.80 L171.42 502.50 L172.79 503.20 L174.10 503.90 L175.14 504.60 L175.76 505.30 L175.88 506.00 L175.47 506.70 L174.59 507.40 L173.37 508.10 L172.00 508.80 L170.67 509.50 L169.59 510.20 L168.90 510.90 L168.71 511.60 L169.04 512.30 L169.86 513.00 L171.04 513.70 L172.40 514.40 L173.75 515.10 L174.88 515.80 L175.64 516.50 L175.90 517.20 L175.64 517.90 L174.88 518.60 L173.75 519.30 L172.40 520.00 L171.04 520.70 L169.86 521.40 L169.04 522.10 L168.71 522.80 L168.90 523.50 L169.59 524.20 L170.67 524.90 L172.00 525.60 L173.37 526.30 L174.59 527.00 L175.47 527.70 L175.88 528.40 L175.76 529.10 L175.14 529.80 L174.10 530.50 L172.79 531.20 L171.42 531.90 L170.17 532.60 L169.23 533.30 L168.75 534.00 L168.79 534.70 L169.34 535.40 L170.33 536.10 L171.61 536.80 L172.99 537.50 L174.27 538.20 L175.26 538.90 L175.81 539.60 L175.85 540.30 L175.37 541.00 L174.43 541.70 L173.18 542.40 L171.81 543.10 L170.50 543.80 L169.46 544.50 L168.84 545.20 L168.72 545.90 L169.13 546.60 L170.01 547.30 L171.23 548.00 L172.60 548.70 L173.93 549.40 L175.01 550.10 L175.70 550.80 L175.89 551.50 L175.56 552.20 L174.74 552.90 L173.56 553.60 L172.20 554.30 L170.85 555.00 L169.72 555.70 L168.96 556.40 L168.70 557.10 L168.96 557.80 L169.72 558.50 L170.85 559.20 L172.20 559.90 L173.56 560.60 L174.74 561.30 L175.56 562.00 L175.89 562.70 L175.70 563.40 L175.01 564.10 M81.50 564.3 H175.50" fill="none" stroke="#f4f8ee" stroke-width="2.7" stroke-linejoin="round"/><path d="M264.10 463 V364 A14 14 0 0 1 278.10 350 H476.50 A14 14 0 0 1 490.50 364 V463 H469.50 V442.5 H284.10 V463 H264.10 M264.10 442.5 H258.30 V460.7 H264.10 M490.50 442.5 H495.80 V460.7 H490.50 M284.10 460.5 H469.50 M288.10 460.5 V467 H466.00 V460.5 M302.40 467 V477.3 H451.00 V467" fill="none" stroke="#f4f8ee" stroke-width="2.2" stroke-linejoin="round"/><path d="M337.10 477.30 L336.84 478.00 L336.08 478.70 L334.95 479.40 L333.60 480.10 L332.24 480.80 L331.06 481.50 L330.24 482.20 L329.91 482.90 L330.10 483.60 L330.79 484.30 L331.87 485.00 L333.20 485.70 L334.57 486.40 L335.79 487.10 L336.67 487.80 L337.08 488.50 L336.96 489.20 L336.34 489.90 L335.30 490.60 L333.99 491.30 L332.62 492.00 L331.37 492.70 L330.43 493.40 L329.95 494.10 L329.99 494.80 L330.54 495.50 L331.53 496.20 L332.81 496.90 L334.19 497.60 L335.47 498.30 L336.46 499.00 L337.01 499.70 L337.05 500.40 L336.57 501.10 L335.63 501.80 L334.38 502.50 L333.01 503.20 L331.70 503.90 L330.66 504.60 L330.04 505.30 L329.92 506.00 L330.33 506.70 L331.21 507.40 L332.43 508.10 L333.80 508.80 L335.13 509.50 L336.21 510.20 L336.90 510.90 L337.09 511.60 L336.76 512.30 L335.94 513.00 L334.76 513.70 L333.40 514.40 L332.05 515.10 L330.92 515.80 L330.16 516.50 L329.90 517.20 L330.16 517.90 L330.92 518.60 L332.05 519.30 L333.40 520.00 L334.76 520.70 L335.94 521.40 L336.76 522.10 L337.09 522.80 L336.90 523.50 L336.21 524.20 L335.13 524.90 L333.80 525.60 L332.43 526.30 L331.21 527.00 L330.33 527.70 L329.92 528.40 L330.04 529.10 L330.66 529.80 L331.70 530.50 L333.01 531.20 L334.38 531.90 L335.63 532.60 L336.57 533.30 L337.05 534.00 L337.01 534.70 L336.46 535.40 L335.47 536.10 L334.19 536.80 L332.81 537.50 L331.53 538.20 L330.54 538.90 L329.99 539.60 L329.95 540.30 L330.43 541.00 L331.37 541.70 L332.62 542.40 L333.99 543.10 L335.30 543.80 L336.34 544.50 L336.96 545.20 L337.08 545.90 L336.67 546.60 L335.79 547.30 L334.57 548.00 L333.20 548.70 L331.87 549.40 L330.79 550.10 L330.10 550.80 L329.91 551.50 L330.24 552.20 L331.06 552.90 L332.24 553.60 L333.60 554.30 L334.95 555.00 L336.08 555.70 L336.84 556.40 L337.10 557.10 L336.84 557.80 L336.08 558.50 L334.95 559.20 L333.60 559.90 L332.24 560.60 L331.06 561.30 L330.24 562.00 L329.91 562.70 L330.10 563.40 L330.79 564.10 M417.50 477.30 L417.76 478.00 L418.52 478.70 L419.65 479.40 L421.00 480.10 L422.36 480.80 L423.54 481.50 L424.36 482.20 L424.69 482.90 L424.50 483.60 L423.81 484.30 L422.73 485.00 L421.40 485.70 L420.03 486.40 L418.81 487.10 L417.93 487.80 L417.52 488.50 L417.64 489.20 L418.26 489.90 L419.30 490.60 L420.61 491.30 L421.98 492.00 L423.23 492.70 L424.17 493.40 L424.65 494.10 L424.61 494.80 L424.06 495.50 L423.07 496.20 L421.79 496.90 L420.41 497.60 L419.13 498.30 L418.14 499.00 L417.59 499.70 L417.55 500.40 L418.03 501.10 L418.97 501.80 L420.22 502.50 L421.59 503.20 L422.90 503.90 L423.94 504.60 L424.56 505.30 L424.68 506.00 L424.27 506.70 L423.39 507.40 L422.17 508.10 L420.80 508.80 L419.47 509.50 L418.39 510.20 L417.70 510.90 L417.51 511.60 L417.84 512.30 L418.66 513.00 L419.84 513.70 L421.20 514.40 L422.55 515.10 L423.68 515.80 L424.44 516.50 L424.70 517.20 L424.44 517.90 L423.68 518.60 L422.55 519.30 L421.20 520.00 L419.84 520.70 L418.66 521.40 L417.84 522.10 L417.51 522.80 L417.70 523.50 L418.39 524.20 L419.47 524.90 L420.80 525.60 L422.17 526.30 L423.39 527.00 L424.27 527.70 L424.68 528.40 L424.56 529.10 L423.94 529.80 L422.90 530.50 L421.59 531.20 L420.22 531.90 L418.97 532.60 L418.03 533.30 L417.55 534.00 L417.59 534.70 L418.14 535.40 L419.13 536.10 L420.41 536.80 L421.79 537.50 L423.07 538.20 L424.06 538.90 L424.61 539.60 L424.65 540.30 L424.17 541.00 L423.23 541.70 L421.98 542.40 L420.61 543.10 L419.30 543.80 L418.26 544.50 L417.64 545.20 L417.52 545.90 L417.93 546.60 L418.81 547.30 L420.03 548.00 L421.40 548.70 L422.73 549.40 L423.81 550.10 L424.50 550.80 L424.69 551.50 L424.36 552.20 L423.54 552.90 L422.36 553.60 L421.00 554.30 L419.65 555.00 L418.52 555.70 L417.76 556.40 L417.50 557.10 L417.76 557.80 L418.52 558.50 L419.65 559.20 L421.00 559.90 L422.36 560.60 L423.54 561.30 L424.36 562.00 L424.69 562.70 L424.50 563.40 L423.81 564.10 M330.30 564.3 H424.30" fill="none" stroke="#f4f8ee" stroke-width="2.7" stroke-linejoin="round"/><path d="M511.80 463 V364 A14 14 0 0 1 525.80 350 H724.20 A14 14 0 0 1 738.20 364 V463 H717.20 V442.5 H531.80 V463 H511.80 M511.80 442.5 H506.00 V460.7 H511.80 M738.20 442.5 H743.50 V460.7 H738.20 M531.80 460.5 H717.20 M535.80 460.5 V467 H713.70 V460.5 M550.10 467 V477.3 H698.70 V467" fill="none" stroke="#f4f8ee" stroke-width="2.2" stroke-linejoin="round"/><path d="M584.80 477.30 L584.54 478.00 L583.78 478.70 L582.65 479.40 L581.30 480.10 L579.94 480.80 L578.76 481.50 L577.94 482.20 L577.61 482.90 L577.80 483.60 L578.49 484.30 L579.57 485.00 L580.90 485.70 L582.27 486.40 L583.49 487.10 L584.37 487.80 L584.78 488.50 L584.66 489.20 L584.04 489.90 L583.00 490.60 L581.69 491.30 L580.32 492.00 L579.07 492.70 L578.13 493.40 L577.65 494.10 L577.69 494.80 L578.24 495.50 L579.23 496.20 L580.51 496.90 L581.89 497.60 L583.17 498.30 L584.16 499.00 L584.71 499.70 L584.75 500.40 L584.27 501.10 L583.33 501.80 L582.08 502.50 L580.71 503.20 L579.40 503.90 L578.36 504.60 L577.74 505.30 L577.62 506.00 L578.03 506.70 L578.91 507.40 L580.13 508.10 L581.50 508.80 L582.83 509.50 L583.91 510.20 L584.60 510.90 L584.79 511.60 L584.46 512.30 L583.64 513.00 L582.46 513.70 L581.10 514.40 L579.75 515.10 L578.62 515.80 L577.86 516.50 L577.60 517.20 L577.86 517.90 L578.62 518.60 L579.75 519.30 L581.10 520.00 L582.46 520.70 L583.64 521.40 L584.46 522.10 L584.79 522.80 L584.60 523.50 L583.91 524.20 L582.83 524.90 L581.50 525.60 L580.13 526.30 L578.91 527.00 L578.03 527.70 L577.62 528.40 L577.74 529.10 L578.36 529.80 L579.40 530.50 L580.71 531.20 L582.08 531.90 L583.33 532.60 L584.27 533.30 L584.75 534.00 L584.71 534.70 L584.16 535.40 L583.17 536.10 L581.89 536.80 L580.51 537.50 L579.23 538.20 L578.24 538.90 L577.69 539.60 L577.65 540.30 L578.13 541.00 L579.07 541.70 L580.32 542.40 L581.69 543.10 L583.00 543.80 L584.04 544.50 L584.66 545.20 L584.78 545.90 L584.37 546.60 L583.49 547.30 L582.27 548.00 L580.90 548.70 L579.57 549.40 L578.49 550.10 L577.80 550.80 L577.61 551.50 L577.94 552.20 L578.76 552.90 L579.94 553.60 L581.30 554.30 L582.65 555.00 L583.78 555.70 L584.54 556.40 L584.80 557.10 L584.54 557.80 L583.78 558.50 L582.65 559.20 L581.30 559.90 L579.94 560.60 L578.76 561.30 L577.94 562.00 L577.61 562.70 L577.80 563.40 L578.49 564.10 M665.20 477.30 L665.46 478.00 L666.22 478.70 L667.35 479.40 L668.70 480.10 L670.06 480.80 L671.24 481.50 L672.06 482.20 L672.39 482.90 L672.20 483.60 L671.51 484.30 L670.43 485.00 L669.10 485.70 L667.73 486.40 L666.51 487.10 L665.63 487.80 L665.22 488.50 L665.34 489.20 L665.96 489.90 L667.00 490.60 L668.31 491.30 L669.68 492.00 L670.93 492.70 L671.87 493.40 L672.35 494.10 L672.31 494.80 L671.76 495.50 L670.77 496.20 L669.49 496.90 L668.11 497.60 L666.83 498.30 L665.84 499.00 L665.29 499.70 L665.25 500.40 L665.73 501.10 L666.67 501.80 L667.92 502.50 L669.29 503.20 L670.60 503.90 L671.64 504.60 L672.26 505.30 L672.38 506.00 L671.97 506.70 L671.09 507.40 L669.87 508.10 L668.50 508.80 L667.17 509.50 L666.09 510.20 L665.40 510.90 L665.21 511.60 L665.54 512.30 L666.36 513.00 L667.54 513.70 L668.90 514.40 L670.25 515.10 L671.38 515.80 L672.14 516.50 L672.40 517.20 L672.14 517.90 L671.38 518.60 L670.25 519.30 L668.90 520.00 L667.54 520.70 L666.36 521.40 L665.54 522.10 L665.21 522.80 L665.40 523.50 L666.09 524.20 L667.17 524.90 L668.50 525.60 L669.87 526.30 L671.09 527.00 L671.97 527.70 L672.38 528.40 L672.26 529.10 L671.64 529.80 L670.60 530.50 L669.29 531.20 L667.92 531.90 L666.67 532.60 L665.73 533.30 L665.25 534.00 L665.29 534.70 L665.84 535.40 L666.83 536.10 L668.11 536.80 L669.49 537.50 L670.77 538.20 L671.76 538.90 L672.31 539.60 L672.35 540.30 L671.87 541.00 L670.93 541.70 L669.68 542.40 L668.31 543.10 L667.00 543.80 L665.96 544.50 L665.34 545.20 L665.22 545.90 L665.63 546.60 L666.51 547.30 L667.73 548.00 L669.10 548.70 L670.43 549.40 L671.51 550.10 L672.20 550.80 L672.39 551.50 L672.06 552.20 L671.24 552.90 L670.06 553.60 L668.70 554.30 L667.35 555.00 L666.22 555.70 L665.46 556.40 L665.20 557.10 L665.46 557.80 L666.22 558.50 L667.35 559.20 L668.70 559.90 L670.06 560.60 L671.24 561.30 L672.06 562.00 L672.39 562.70 L672.20 563.40 L671.51 564.10 M578.00 564.3 H672.00" fill="none" stroke="#f4f8ee" stroke-width="2.7" stroke-linejoin="round"/>
<g fill="#f4f8ee" stroke="#f4f8ee" stroke-width="0.55" stroke-linejoin="round" font-family="'DejaVu Sans Mono','Liberation Mono',monospace"><text x="21.12" y="457.27" font-size="17.90" textLength="11.39" lengthAdjust="spacingAndGlyphs" stroke-width="0.25">1</text><text x="223.52" y="457.47" font-size="18.86" textLength="11.89" lengthAdjust="spacingAndGlyphs" stroke-width="0.25">3</text><text x="269.93" y="457.27" font-size="17.90" textLength="11.39" lengthAdjust="spacingAndGlyphs" stroke-width="0.25">1</text><text x="472.32" y="457.47" font-size="18.86" textLength="11.89" lengthAdjust="spacingAndGlyphs" stroke-width="0.25">3</text><text x="517.62" y="457.27" font-size="17.90" textLength="11.39" lengthAdjust="spacingAndGlyphs" stroke-width="0.25">1</text><text x="720.03" y="457.47" font-size="18.86" textLength="11.89" lengthAdjust="spacingAndGlyphs" stroke-width="0.25">3</text><text x="193.97" y="24.12" font-size="20.92" textLength="25.53" lengthAdjust="spacingAndGlyphs">R1</text><text x="230.47" y="24.12" font-size="20.92" textLength="27.53" lengthAdjust="spacingAndGlyphs">R2</text><text x="383.47" y="23.62" font-size="20.23" textLength="38.57" lengthAdjust="spacingAndGlyphs">IC1</text><text x="485.97" y="32.12" font-size="20.92" textLength="41.58" lengthAdjust="spacingAndGlyphs">C11</text><text x="86.48" y="142.12" font-size="20.92" textLength="28.03" lengthAdjust="spacingAndGlyphs">C2</text><text x="149.47" y="155.12" font-size="20.92" textLength="27.03" lengthAdjust="spacingAndGlyphs">C1</text><text x="285.97" y="139.62" font-size="20.23" textLength="27.53" lengthAdjust="spacingAndGlyphs">C3</text><text x="584.23" y="141.62" font-size="20.23" textLength="43.33" lengthAdjust="spacingAndGlyphs">C12</text><text x="634.98" y="167.38" font-size="20.92" textLength="42.83" lengthAdjust="spacingAndGlyphs">R13</text><text x="268.47" y="178.62" font-size="20.92" textLength="27.78" lengthAdjust="spacingAndGlyphs">R3</text><text x="475.47" y="155.62" font-size="20.23" textLength="27.03" lengthAdjust="spacingAndGlyphs">R4</text><text x="475.97" y="215.12" font-size="20.92" textLength="26.53" lengthAdjust="spacingAndGlyphs">C5</text><text x="299.47" y="240.62" font-size="20.23" textLength="27.53" lengthAdjust="spacingAndGlyphs">C6</text><text x="202.47" y="250.62" font-size="20.23" textLength="27.03" lengthAdjust="spacingAndGlyphs">C4</text><text x="228.47" y="266.12" font-size="20.92" textLength="39.07" lengthAdjust="spacingAndGlyphs">R11</text><text x="282.97" y="261.12" font-size="20.92" textLength="27.53" lengthAdjust="spacingAndGlyphs">R8</text><text x="484.72" y="267.38" font-size="19.89" textLength="27.28" lengthAdjust="spacingAndGlyphs">R9</text><text x="609.23" y="233.12" font-size="20.23" textLength="27.28" lengthAdjust="spacingAndGlyphs">C9</text><text x="113.23" y="279.88" font-size="19.89" textLength="26.03" lengthAdjust="spacingAndGlyphs">R7</text><text x="104.98" y="341.62" font-size="21.60" textLength="43.58" lengthAdjust="spacingAndGlyphs">C10</text><text x="236.47" y="354.12" font-size="20.92" textLength="27.28" lengthAdjust="spacingAndGlyphs">R5</text><text x="361.47" y="337.62" font-size="20.23" textLength="27.03" lengthAdjust="spacingAndGlyphs">C7</text><text x="487.22" y="354.12" font-size="20.92" textLength="27.78" lengthAdjust="spacingAndGlyphs">R6</text><text x="609.23" y="335.88" font-size="20.92" textLength="27.28" lengthAdjust="spacingAndGlyphs">C8</text><text x="178.47" y="512.83" font-size="21.19" textLength="84.10" lengthAdjust="spacingAndGlyphs">TREBLE</text><text x="431.47" y="513.12" font-size="21.60" textLength="58.00" lengthAdjust="spacingAndGlyphs">BASS</text><text x="675.98" y="512.83" font-size="21.19" textLength="38.27" lengthAdjust="spacingAndGlyphs">MID</text><text transform="translate(586.02,57.80) rotate(-90)" x="0.28" font-size="22.70" textLength="42.08" lengthAdjust="spacingAndGlyphs">R12</text><text transform="translate(702.02,303.80) rotate(-90)" x="0.28" font-size="24.07" textLength="43.08" lengthAdjust="spacingAndGlyphs">R10</text><text transform="translate(65.55,113.30) rotate(-90)" x="0.75" font-size="27.57" textLength="52.13" lengthAdjust="spacingAndGlyphs" stroke-width="1.50">VCC</text><text transform="translate(65.55,173.80) rotate(-90)" x="0.75" font-size="27.57" textLength="54.13" lengthAdjust="spacingAndGlyphs" stroke-width="1.50">GND</text><text transform="translate(65.55,264.30) rotate(-90)" x="0.75" font-size="27.57" textLength="81.60" lengthAdjust="spacingAndGlyphs" stroke-width="1.50">INPUT</text><text transform="translate(65.55,335.30) rotate(-90)" x="0.75" font-size="27.57" textLength="51.63" lengthAdjust="spacingAndGlyphs" stroke-width="1.50">GND</text><text transform="translate(711.55,115.80) rotate(-90)" x="0.75" font-size="27.57" textLength="48.13" lengthAdjust="spacingAndGlyphs" stroke-width="1.50">OUT</text><text transform="translate(711.55,182.30) rotate(-90)" x="0.75" font-size="27.57" textLength="50.63" lengthAdjust="spacingAndGlyphs" stroke-width="1.50">GND</text></g>
</g>
</svg></body></html>
